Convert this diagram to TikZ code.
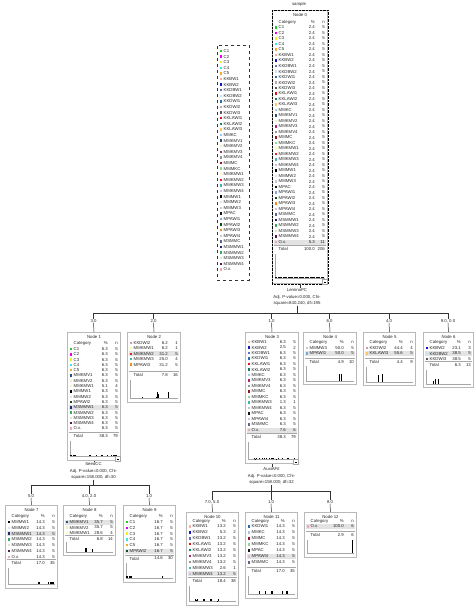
\documentclass[tikz,border=0pt]{standalone}
\usepackage{fontspec}
\setmainfont{Liberation Sans}
\usetikzlibrary{positioning,calc}

% category colours
\definecolor{cat1}{RGB}{40,200,40}
\definecolor{cat2}{RGB}{230,0,230}
\definecolor{cat3}{RGB}{240,240,40}
\definecolor{cat4}{RGB}{60,230,230}
\definecolor{cat5}{RGB}{250,170,40}
\definecolor{cat6}{RGB}{240,180,160}
\definecolor{cat7}{RGB}{20,20,200}
\definecolor{cat8}{RGB}{100,110,200}
\definecolor{cat9}{RGB}{200,230,240}
\definecolor{cat10}{RGB}{40,110,170}
\definecolor{cat11}{RGB}{200,160,170}
\definecolor{cat12}{RGB}{90,90,90}
\definecolor{cat13}{RGB}{220,20,20}
\definecolor{cat14}{RGB}{20,130,90}
\definecolor{cat15}{RGB}{250,200,90}
\definecolor{cat16}{RGB}{160,200,240}
\definecolor{cat17}{RGB}{40,80,120}
\definecolor{cat18}{RGB}{240,240,190}
\definecolor{cat19}{RGB}{170,40,110}
\definecolor{cat20}{RGB}{150,150,150}
\definecolor{cat21}{RGB}{150,20,30}
\definecolor{cat22}{RGB}{140,220,140}
\definecolor{cat23}{RGB}{250,250,170}
\definecolor{cat24}{RGB}{230,30,30}
\definecolor{cat25}{RGB}{60,180,180}
\definecolor{cat26}{RGB}{200,190,230}
\definecolor{cat27}{RGB}{0,0,0}
\definecolor{cat28}{RGB}{225,225,225}
\definecolor{cat29}{RGB}{190,200,220}
\definecolor{cat30}{RGB}{20,20,20}
\definecolor{cat31}{RGB}{120,170,220}
\definecolor{cat32}{RGB}{20,70,40}
\definecolor{cat33}{RGB}{240,140,40}
\definecolor{cat34}{RGB}{220,190,220}
\definecolor{cat35}{RGB}{90,100,140}
\definecolor{cat36}{RGB}{30,40,120}
\definecolor{cat37}{RGB}{60,170,90}
\definecolor{cat38}{RGB}{220,230,200}
\definecolor{cat39}{RGB}{90,20,80}
\definecolor{cat40}{RGB}{240,170,180}

\newcommand{\catlist}{1/C1,2/C2,3/C3,4/C4,5/C5,6/KKBW1,7/KKBW2,8/KKDBW1,9/KKDBW2,10/KKDWI1,
  11/KKDWI2,12/KKDWI3,13/KKLAWI1,14/KKLAWI2,15/KKLAWI3,16/MMKC,17/MMKMV1,18/MMKMV2,19/MMKMV3,20/MMKMV4,
  21/MMMC,22/MMMKC,23/MMKMW1,24/MMKMW2,25/MMKMW3,26/MMKMW4,27/MMMW1,28/MMMW2,29/MMMW3,30/MPAC,
  31/MPAWI1,32/MPAWI2,33/MPAWI3,34/MPAWI4,35/MSMMC,36/MSMMW1,37/MSMMW2,38/MSMMW3,39/MSMMW4,40/O.x.}

% frame, title and chart axis of a tree node
\newcommand{\tbox}[8]{%
  \node[treebox, minimum width=#4pt, minimum height=#5pt, anchor=north west] (#1) at (#2,#3) {};
  \node[txt] (#1-t) at ($(#1.north)+(0,5)$) {#6};
  \xdef\cbase{#7}\xdef\cht{#8}%
  \draw[axisline] ($(#1.north west)+(3,#7-#8)$) |- ($(#1.north east)+(-3,#7)$);
}
% header row
\newcommand{\thead}[2]{%
  \node[txt, anchor=west] (#1-hc) at ($(#1.north west)+(6.5,#2)$) {Category};
  \node[txt, anchor=east] (#1-hp) at ($(#1.north east)+(-13,#2)$) {\%};
  \node[txt, anchor=east] (#1-hn) at ($(#1.north east)+(-3,#2)$) {n};
}
% one category row + its bar
\newcommand{\trow}[8]{%
  \ifnum#8=1 \fill[hlrow] ($(#1.north west)+(2,#3-2.5)$) rectangle ($(#1.north east)+(-2,#3+2.5)$);\fi
  \fill[fill=cat#4] ($(#1.north west)+(3,#3-1.2)$) rectangle ++(2.4,2.4);
  \node[txt, anchor=west] (#1-c#4) at ($(#1.north west)+(6.5,#3)$) {#5};
  \node[txt, anchor=east] (#1-p#4) at ($(#1.north east)+(-13,#3)$) {#6};
  \node[txt, anchor=east] (#1-n#4) at ($(#1.north east)+(-3,#3)$) {#7};
  \draw[barline] ($(#1.north west)+({3+(#4-0.5)*(#2-6)/40},\cbase)$) -- ++(0,{-#6*\cht/100});
}
\newcommand{\trows}[5]{%
  \foreach \ci/\cn/\cp/\cc/\hl [count=\k from 0] in {#5} {%
    \pgfmathsetmacro\ry{#3+\k*#4}%
    \trow{#1}{#2}{\ry}{\ci}{\cn}{\cp}{\cc}{\hl}%
  }%
}
% total row
\newcommand{\ttotal}[4]{%
  \draw[sepline] ($(#1.north west)+(2,#2-3.5)$) -- ($(#1.north east)+(-2,#2-3.5)$);
  \node[txt, anchor=west] (#1-tl) at ($(#1.north west)+(6.5,#2)$) {Total};
  \node[txt, anchor=east] (#1-tp) at ($(#1.north east)+(-13,#2)$) {#3};
  \node[txt, anchor=east] (#1-tn) at ($(#1.north east)+(-3,#2)$) {#4};
}

\begin{document}
\begin{tikzpicture}[x=1pt, y=-1pt,
  txt/.style={font=\fontsize{4.3}{5}\selectfont, inner sep=0pt, text=black!85},
  treebox/.style={draw=gray!55, line width=1pt, fill=white, inner sep=0pt},
  legbox/.style={draw=black!80, dashed, line width=0.5pt, inner sep=0pt},
  hlrow/.style={fill=gray!22},
  sepline/.style={draw=gray!70, line width=0.4pt},
  axisline/.style={draw=gray!70, line width=0.3pt},
  barline/.style={draw=black, line width=0.7pt},
  conn/.style={draw=black!80, line width=0.5pt},
  splitlbl/.style={txt, align=center, font=\fontsize{4.3}{6.5}\selectfont},
  brlbl/.style={txt},
  minusbox/.style={draw=gray!70, fill=white, minimum size=5pt, inner sep=0pt,
    path picture={\draw[black] ([xshift=1.2pt]path picture bounding box.west) -- ([xshift=-1.2pt]path picture bounding box.east);}}
]
\fill[white] (0,0) rectangle (474,615);
\useasboundingbox (0,0) rectangle (474,615);

\node[txt] (top) at (299,4) {sample};

% legend
\node[legbox, minimum width=32pt, minimum height=235pt, anchor=north west] (lg) at (217,45) {};
\foreach \ci/\cn in \catlist {
  \pgfmathsetmacro\ry{6+(\ci-1)*5.6}
  \fill[fill=cat\ci] ($(lg.north west)+(3,\ry-1.2)$) rectangle ++(2.4,2.4);
  \node[txt, anchor=west] (lg-\ci) at ($(lg.north west)+(6.5,\ry)$) {\cn};
}

% Node 0
\tbox{n0}{272}{10}{55}{273}{Node 0}{268}{24}
\draw[densely dotted, black] (n0.north west) rectangle (n0.south east);
\thead{n0}{12}
\foreach \ci/\cn in \catlist {
  \pgfmathsetmacro\ry{17.5+(\ci-1)*5.5}
  \ifnum\ci=40 \trow{n0}{55}{\ry}{\ci}{\cn}{5.3}{11}{1}\else\trow{n0}{55}{\ry}{\ci}{\cn}{2.4}{5}{0}\fi
}
\ttotal{n0}{239}{100.0}{206}
\node[minusbox] (n0-m) at ($(n0.south east)+(-3,-2)$) {};

% first split
\node[splitlbl] (s0) at (297,297) {LeminaPC\\Adj. P-value=0.000, Chi-\\square=840.240, df=195};
\coordinate (bar0) at (0,313);
\node[brlbl] (l1) at (93.5,321) {3.0};
\node[brlbl] (l2) at (153.5,321) {2.0};
\node[brlbl] (l3) at (271.5,321) {1.0};
\node[brlbl] (l4) at (329.5,321) {6.0};
\node[brlbl] (l5) at (389,321) {4.0};
\node[brlbl] (l6) at (448,321) {9.0, 0.0};

% Node 1
\tbox{n1}{67}{332}{53}{128}{Node 1}{124}{15}
\thead{n1}{11}
\trows{n1}{53}{17}{5.3}{1/C1/6.3/5/0,2/C2/6.3/5/0,3/C3/6.3/5/0,4/C4/6.3/5/0,5/C5/6.3/5/0,
  17/MMKMV1/6.3/5/0,18/MMKMV2/6.3/5/0,23/MMKMW1/5.1/4/0,27/MMMW1/6.3/5/0,28/MMMW2/6.3/5/0,
  32/MPAWI2/6.3/5/0,36/MSMMW1/6.3/5/1,37/MSMMW2/6.3/5/0,38/MSMMW3/6.3/5/0,39/MSMMW4/6.3/5/0,40/O.x./6.3/5/0}
\ttotal{n1}{104}{38.3}{79}
\node[minusbox] (n1-m) at ($(n1.south east)+(-3,-2)$) {};

% Node 2
\tbox{n2}{127}{332}{53}{70}{Node 2}{66}{18}
\trows{n2}{53}{11}{5.4}{11/KKDWI2/6.2/1/0,23/MMKMW1/6.2/1/0,24/MMKMW2/31.2/5/1,25/MMKMW3/25.0/4/0,33/MPAWI3/31.2/5/0}
\ttotal{n2}{43}{7.8}{16}

% Node 3
\tbox{n3}{245}{332}{53}{131}{Node 3}{127}{17}
\trows{n3}{53}{10}{5.5}{6/KKBW1/6.3/5/0,7/KKBW2/2.5/2/0,8/KKDBW1/6.3/5/0,10/KKDWI1/6.3/5/0,13/KKLAWI1/6.3/5/0,
  14/KKLAWI2/6.3/5/0,16/MMKC/6.3/5/0,19/MMKMV3/6.3/5/0,20/MMKMV4/6.3/5/0,21/MMMC/6.3/5/0,22/MMMKC/6.3/5/0,
  25/MMKMW3/1.3/1/0,26/MMKMW4/6.3/5/0,30/MPAC/6.3/5/0,34/MPAWI4/6.3/5/0,35/MSMMC/6.3/5/0,40/O.x./7.6/6/1}
\ttotal{n3}{105}{38.3}{79}
\node[minusbox] (n3-m) at ($(n3.south east)+(-3,-2)$) {};

% Node 4
\tbox{n4}{303}{332}{53}{52}{Node 4}{49}{15}
\thead{n4}{10.5}
\trows{n4}{53}{16}{5.5}{29/MMMW3/50.0/5/0,31/MPAWI1/50.0/5/1}
\ttotal{n4}{30}{4.9}{10}

% Node 5
\tbox{n5}{363}{332}{52}{53}{Node 5}{50}{15}
\thead{n5}{10.5}
\trows{n5}{52}{16}{5.5}{11/KKDWI2/44.4/4/0,15/KKLAWI3/55.6/5/1}
\ttotal{n5}{30}{4.4}{9}

% Node 6
\tbox{n6}{423}{332}{50}{55}{Node 6}{52}{14}
\thead{n6}{10.5}
\trows{n6}{50}{16}{5.5}{7/KKBW2/23.1/3/0,9/KKDBW2/38.5/5/1,12/KKDWI3/38.5/5/0}
\ttotal{n6}{33}{6.3}{13}

% split under Node 1
\node[splitlbl] (s1) at (93.5,471) {SeedCC\\Adj. P-value=0.000, Chi-\\square=158.000, df=30};
\coordinate (bar1) at (0,485);
\node[brlbl] (l7) at (31,496) {5.0};
\node[brlbl] (l8) at (89,496) {4.0, 2.0};
\node[brlbl] (l9) at (149,496) {1.0};

% Node 7
\tbox{n7}{5}{505}{52}{83}{Node 7}{79}{16}
\thead{n7}{11}
\trows{n7}{52}{17}{5.8}{27/MMMW1/14.3/5/0,28/MMMW2/14.3/5/0,36/MSMMW1/14.3/5/1,37/MSMMW2/14.3/5/0,
  38/MSMMW3/14.3/5/0,39/MSMMW4/14.3/5/0,40/O.x./14.3/5/0}
\ttotal{n7}{58}{17.0}{35}

% Node 8
\tbox{n8}{63}{505}{52}{50}{Node 8}{47}{10}
\thead{n8}{11}
\trows{n8}{52}{17}{5.5}{17/MMKMV1/35.7/5/1,18/MMKMV2/35.7/5/0,23/MMKMW1/28.6/4/0}
\ttotal{n8}{34}{6.8}{14}

% Node 9
\tbox{n9}{123}{505}{52}{77}{Node 9}{73}{15}
\thead{n9}{11}
\trows{n9}{52}{17}{5.8}{1/C1/16.7/5/0,2/C2/16.7/5/0,3/C3/16.7/5/0,4/C4/16.7/5/0,5/C5/16.7/5/0,32/MPAWI2/16.7/5/1}
\ttotal{n9}{53.5}{14.6}{30}

% split under Node 3
\node[splitlbl] (s3) at (271.5,476) {AuxiAFit\\Adj. P-value=0.000, Chi-\\square=158.000, df=32};
\coordinate (bar3) at (0,491);
\node[brlbl] (l10) at (212,502) {7.0, 5.0};
\node[brlbl] (l11) at (271,502) {1.0};
\node[brlbl] (l12) at (330,502) {8.0};

% Node 10
\tbox{n10}{186}{512}{52}{93}{Node 10}{89}{15}
\thead{n10}{9.5}
\trows{n10}{52}{14.5}{5.9}{6/KKBW1/13.2/5/0,7/KKBW2/5.3/2/0,8/KKDBW1/13.2/5/0,13/KKLAWI1/13.2/5/0,
  14/KKLAWI2/13.2/5/0,19/MMKMV3/13.2/5/0,20/MMKMV4/13.2/5/0,25/MMKMW3/2.6/1/0,26/MMKMW4/13.2/5/1}
\ttotal{n10}{69}{18.4}{38}

% Node 11
\tbox{n11}{245}{512}{52}{86}{Node 11}{82}{18}
\thead{n11}{9.5}
\trows{n11}{52}{14.5}{6}{10/KKDWI1/14.3/5/0,16/MMKC/14.3/5/0,21/MMMC/14.3/5/0,22/MMMKC/14.3/5/0,
  30/MPAC/14.3/5/0,34/MPAWI4/14.3/5/1,35/MSMMC/14.3/5/0}
\ttotal{n11}{59}{17.0}{35}

% Node 12
\tbox{n12}{304}{512}{52}{45}{Node 12}{41}{13}
\thead{n12}{9.5}
\trows{n12}{52}{14.5}{6}{40/O.x./100.0/6/1}
\ttotal{n12}{23}{2.9}{6}

% connectors
\draw[conn] (n0.south) -- (n0.south |- s0.north);
\draw[conn] (s0.south) -- (s0.south |- bar0);
\draw[conn] (l1.north) -- (l1.north |- bar0) -| (l6.north);
\foreach \b in {2,3,4,5} \draw[conn] (l\b.north) -- (l\b.north |- bar0);
\foreach \b in {1,...,6} \draw[conn] (l\b.south) -- (n\b.north);

\draw[conn] (n1.south) -- (n1.south |- s1.north);
\draw[conn] (s1.south) -- (s1.south |- bar1);
\draw[conn] (l7.north) -- (l7.north |- bar1) -| (l9.north);
\draw[conn] (l8.north) -- (l8.north |- bar1);
\foreach \b in {7,8,9} \draw[conn] (l\b.south) -- (n\b.north);

\draw[conn] (n3.south) -- (n3.south |- s3.north);
\draw[conn] (s3.south) -- (s3.south |- bar3);
\draw[conn] (l10.north) -- (l10.north |- bar3) -| (l12.north);
\draw[conn] (l11.north) -- (l11.north |- bar3);
\foreach \b in {10,11,12} \draw[conn] (l\b.south) -- (n\b.north);

\end{tikzpicture}
\end{document}
